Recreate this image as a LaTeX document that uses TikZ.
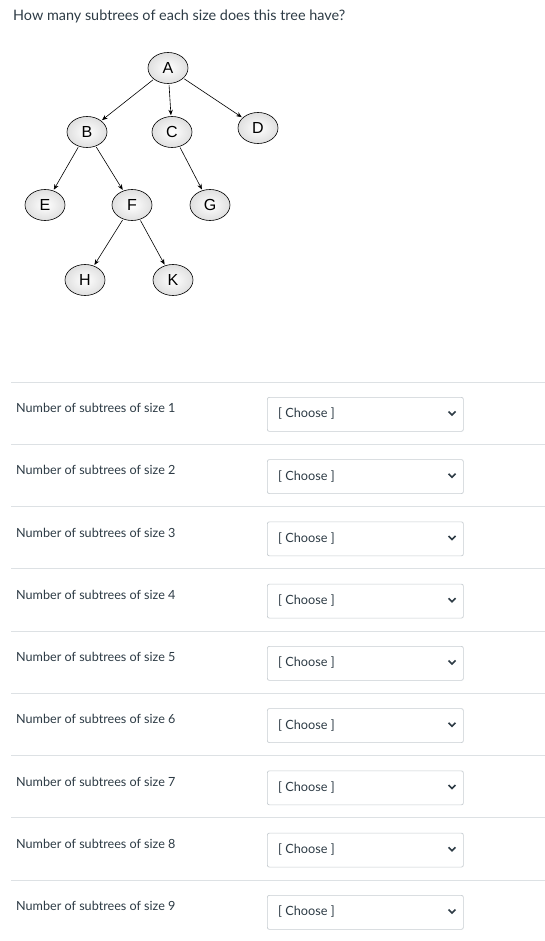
\documentclass[tikz,border=0pt]{standalone}
\usepackage{fontspec}
\setmainfont{Lato}
\newfontfamily\treefont{Liberation Sans}
\usetikzlibrary{arrows.meta,shapes.geometric}
\definecolor{txt}{HTML}{2D3B45}
\definecolor{sep}{HTML}{DDE1E4}
\definecolor{boxb}{HTML}{C7CDD1}
\begin{document}
\begin{tikzpicture}[x=1pt,y=-1pt,
  tnode/.style={ellipse,draw=black,line width=0.6pt,minimum width=40pt,minimum height=31pt,inner sep=0pt,
    inner color=white,outer color=gray!25,font=\treefont\fontsize{16}{16}\selectfont},
  tedge/.style={-{Stealth[length=5.5pt,width=4.5pt]},line width=0.6pt,shorten >=1pt,shorten <=1pt},
  rowlabel/.style={anchor=west,inner sep=0pt,text=txt,font=\fontsize{12.6}{13}\selectfont},
  choosebox/.style={draw=boxb,line width=0.7pt,rounded corners=2pt,minimum width=196pt,minimum height=34pt,anchor=north west,inner sep=0pt},
  choosetext/.style={anchor=west,inner sep=0pt,text=txt,font=\fontsize{12.7}{13}\selectfont},
  sepline/.style={draw=sep,line width=0.8pt},
  chev/.style={draw=txt,line width=1.5pt}
]
\useasboundingbox (0,0) rectangle (545,941);
\fill[white] (0,0) rectangle (545,941);
\node[anchor=base west,inner sep=0pt,text=txt,font=\fontsize{14.4}{15}\selectfont] (title) at (13,21) {How many subtrees of each size does this tree have?};
% tree
\node[tnode] (A) at (168,68) {A};
\node[tnode] (B) at (87,132) {B};
\node[tnode] (C) at (172,132) {C};
\node[tnode] (D) at (258,128) {D};
\node[tnode] (E) at (45,205) {E};
\node[tnode] (F) at (132,205) {F};
\node[tnode] (G) at (210,205) {G};
\node[tnode] (H) at (85,280) {H};
\node[tnode] (K) at (173,280) {K};
\draw[tedge] (A) -- (B);
\draw[tedge] (A) -- (C);
\draw[tedge] (A) -- (D);
\draw[tedge] (B) -- (E);
\draw[tedge] (B) -- (F);
\draw[tedge] (C) -- (G);
\draw[tedge] (F) -- (H);
\draw[tedge] (F) -- (K);
% rows
\foreach \i in {1,...,9}{
  \pgfmathsetmacro{\ly}{382+62.25*(\i-1)}
  \pgfmathsetmacro{\ty}{408+62.25*(\i-1)}
  \pgfmathsetmacro{\by}{397+62.25*(\i-1)}
  \pgfmathsetmacro{\cy}{414+62.25*(\i-1)}
  \coordinate (sl\i) at (11,\ly);
  \coordinate (sr\i) at (545,\ly);
  \draw[sepline] (sl\i) -- (sr\i);
  \node[rowlabel] (lab\i) at (16,\ty) {Number of subtrees of size \i};
  \node[choosebox] (box\i) at (267,\by) {};
  \node[choosetext] (ch\i) at (278,\cy) {[ Choose ]};
  \coordinate (cv1\i) at (448.5,\cy-2.5);
  \coordinate (cv2\i) at (452,\cy+1);
  \coordinate (cv3\i) at (455.5,\cy-2.5);
  \draw[chev] (cv1\i) -- (cv2\i) -- (cv3\i);
}
\end{tikzpicture}
\end{document}
